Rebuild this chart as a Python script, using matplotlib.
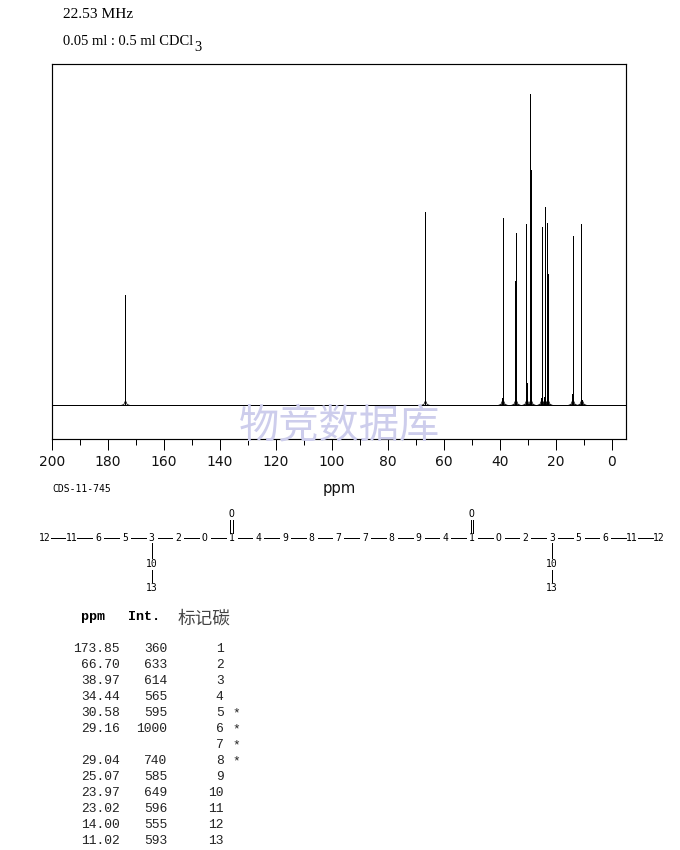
#!/usr/bin/env python3
"""13C NMR spectrum with structure and peak table."""

import matplotlib
matplotlib.use("Agg")
import matplotlib.pyplot as plt
from matplotlib.path import Path
import numpy as np

# spectrum sticks (ppm, intensity)
peak_ppm = [173.85, 66.70, 38.97, 39.3, 34.20, 34.60, 30.70, 30.35, 29.30, 29.04,
            25.10, 25.40, 23.90, 24.30, 23.20, 22.90, 13.95, 14.30, 11.05, 10.70]
peak_int = [354, 620, 601, 22, 553, 399, 582, 70, 1000, 755,
            572, 22, 636, 25, 585, 421, 543, 35, 582, 16]

major_ticks = [0, 20, 40, 60, 80, 100, 120, 140, 160, 180, 200]
minor_ticks = [10, 30, 50, 70, 90, 110, 130, 150, 170, 190]

# peak table
table_ppm = ["173.85", "66.70", "38.97", "34.44", "30.58", "29.16", "",
             "29.04", "25.07", "23.97", "23.02", "14.00", "11.02"]
table_int = ["360", "633", "614", "565", "595", "1000", "",
             "740", "585", "649", "596", "555", "593"]
table_carbon = ["1", "2", "3", "4", "5", "6", "7", "8", "9", "10", "11", "12", "13"]
table_star = ["", "", "", "", "*", "*", "*", "*", "", "", "", "", ""]

# structure, left to right
chain = ["12", "11", "6", "5", "3", "2", "O", "1", "4", "9", "8", "7",
         "7", "8", "9", "4", "1", "O", "2", "3", "5", "6", "11", "12"]
carbonyl_atoms = [7, 16]
branch_atoms = [4, 19]
branch_labels = ["10", "13"]

W, H = 680, 850
fig = plt.figure(figsize=(W / 100, H / 100), dpi=100, facecolor="white")
px = 0.72  # one pixel in points

# ===============================
# SPECTRUM
# ===============================
left, right, top, bottom = 52.0, 626.0, 64.0, 439.0
ax = fig.add_axes([left / W, 1 - bottom / H, (right - left) / W, (bottom - top) / H])
ax.set_xlim(200, -5)
ax.set_ylim(-109, 1096)
ax.vlines(peak_ppm, 0, peak_int, color="black", lw=px, antialiased=False)
ax.axhline(0, color="black", lw=px, antialiased=False)

# small tent at the foot of every stick
foot = Path([(-1, 0), (-0.35, 0.2), (0, 1), (0.35, 0.2), (1, 0)])
ax.plot(peak_ppm, np.zeros(len(peak_ppm)), ls="", marker=foot, ms=7,
        mfc="none", mec="black", mew=0.5)

ax.set_xticks(major_ticks)
ax.set_xticks(minor_ticks, minor=True)
ax.set_yticks([])
ax.tick_params(axis="x", which="major", length=11 * px, width=px, pad=3.3,
               labelsize=10, labelcolor="#111111")
ax.tick_params(axis="x", which="minor", length=6 * px, width=px)
for s in ax.spines.values():
    s.set_linewidth(0.85)

# ===============================
# OVERLAY IN PIXEL COORDINATES
# ===============================
ov = fig.add_axes([0, 0, 1, 1], facecolor="none")
ov.set_xlim(0, W)
ov.set_ylim(H, 0)
ov.axis("off")

serif = "Liberation Serif"
mono = "Liberation Mono"
struct_font = "DejaVu Sans Mono"
cjk = ["Noto Sans CJK SC", "DejaVu Sans"]

ov.text(63, 14, "22.53 MHz", family=serif, fontsize=11.1, ha="left", va="center")
ov.text(63, 41, "0.05 ml : 0.5 ml CDCl", family=serif, fontsize=10.45, ha="left", va="center")
ov.text(194.5, 47, "3", family=serif, fontsize=10.45, ha="left", va="center")

ov.text(339.5, 425.5, "物竞数据库", family=cjk, fontsize=29, color="#cdcdec",
        ha="center", va="center")
ov.text(339, 488, "ppm", family="DejaVu Sans", fontsize=10.6, ha="center", va="center",
        color="#111111")
ov.text(52, 488.5, "CDS-11-745", family=struct_font, fontsize=7, ha="left",
        va="center")

# structure
x0, dx, y0 = 44.7, 26.7, 538
atom_x = [x0 + dx * i for i in range(len(chain))]
for x, lab in zip(atom_x, chain):
    ov.text(x, y0, lab, family=struct_font, fontsize=7, ha="center", va="center")
for xa, xb in zip(atom_x[:-1], atom_x[1:]):
    ov.plot([xa + 6, xb - 6], [y0, y0], color="black", lw=px)
for i in carbonyl_atoms:
    ov.text(atom_x[i], 514, "O", family=struct_font, fontsize=7, ha="center",
            va="center")
    for off in (-1.2, 1.2):
        ov.plot([atom_x[i] + off] * 2, [520, 533], color="black", lw=px)
for i in branch_atoms:
    ov.plot([atom_x[i]] * 2, [543, 558], color="black", lw=px)
    ov.plot([atom_x[i]] * 2, [570, 582], color="black", lw=px)
    ov.text(atom_x[i], 564, branch_labels[0], family=struct_font, fontsize=7,
            ha="center", va="center")
    ov.text(atom_x[i], 588, branch_labels[1], family=struct_font, fontsize=7,
            ha="center", va="center")

# table
ov.text(92.5, 617, "ppm", family=mono, weight="bold", fontsize=9.6, ha="center", va="center")
ov.text(144, 617, "Int.", family=mono, weight="bold", fontsize=9.6, ha="center", va="center")
ov.text(204.5, 619, "标记碳", family=cjk, fontsize=12.7, color="#444444", ha="center",
        va="center")
row0, row_h = 649, 16
for i in range(len(table_carbon)):
    y = row0 + i * row_h
    ov.text(119.5, y, table_ppm[i], family=mono, fontsize=9.4, ha="right", va="center",
            color="#222222")
    ov.text(167.5, y, table_int[i], family=mono, fontsize=9.4, ha="right", va="center",
            color="#222222")
    ov.text(223.5, y, table_carbon[i], family=mono, fontsize=9.4, ha="right", va="center",
            color="#222222")
    if table_star[i]:
        ov.text(236.5, y, table_star[i], family=mono, fontsize=9.4, ha="center",
                va="center", color="#222222")

fig.savefig("out.png", dpi=100)
